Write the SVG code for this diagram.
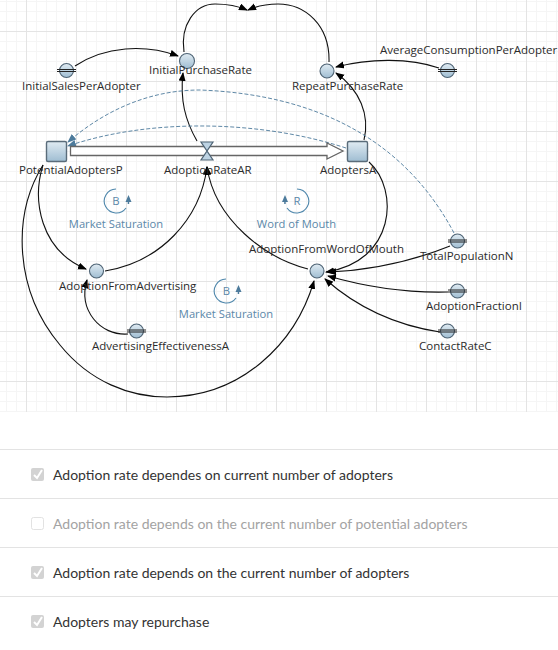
<svg xmlns="http://www.w3.org/2000/svg" width="558" height="650" viewBox="0 0 558 650">
<style>
.lb{font-family:"Open Sans","Noto Sans",sans-serif;font-size:11.5px;fill:#2b2b2b}
.lp{font-family:"Open Sans","Noto Sans",sans-serif;font-size:11.300px;fill:#5b87a8;text-anchor:middle}
.ll{font-family:"Open Sans","Noto Sans",sans-serif;font-size:11.200px;fill:#5b87a8;text-anchor:middle}
.c{fill:none;stroke:#111;stroke-width:1.1;marker-end:url(#a)}
.d{fill:none;stroke:#4d7b9c;stroke-width:.9;stroke-dasharray:4 2;marker-end:url(#b)}
.n{fill:url(#g);stroke:#4f6475;stroke-width:1.1}
.s{fill:url(#g);stroke:#5a6c7a;stroke-width:1.4}
.bar{stroke:#222;stroke-width:1;fill:none}
.opt{font-family:Lato,sans-serif;font-size:14px;fill:#333}
.sep{stroke:#e3e3e3;stroke-width:1.2}
.box{fill:#d3d3d3}
.chk{fill:none;stroke:#fff;stroke-width:2}
.lp2{fill:none;stroke:#4d86ab;stroke-width:1.1}
.lt{fill:#4d7b9c}
</style>
<defs>
<linearGradient id="g" x1="0" y1="0" x2="0" y2="1"><stop offset="0" stop-color="#e0ebf2"/><stop offset="1" stop-color="#9fbdd2"/></linearGradient>
<marker id="a" markerWidth="9" markerHeight="8" refX="8" refY="3.500" orient="auto" markerUnits="userSpaceOnUse"><path d="M0 0L9 3.500L0 7Z" fill="#000"/></marker>
<marker id="b" markerWidth="9" markerHeight="8" refX="8" refY="3.500" orient="auto" markerUnits="userSpaceOnUse"><path d="M0 0L9 3.500L0 7Z" fill="#4d7b9c"/></marker>
<pattern id="grid" width="50" height="50" patternUnits="userSpaceOnUse" patternTransform="translate(26 31)">
<path d="M10.5 0V50M20.5 0V50M30.5 0V50M40.5 0V50M0 10.5H50M0 20.5H50M0 30.5H50M0 40.5H50" stroke="#f5f5f5" fill="none"/>
<path d="M.5 0V50M0 .5H50" stroke="#e4e4e4" fill="none"/>
</pattern>
</defs>
<rect width="558" height="650" fill="#fff"/>
<rect x="0" y="0" width="558" height="412" fill="url(#grid)"/>
<g id="connectors">
<path class="c" d="M184 52C180 25 195 4 215 4C228 4 238 6 247 10"/>
<path class="c" d="M329 62C330 25 305 4 278 4C265 4 257 6 248 10"/>
<path class="c" d="M75 66C105 46 145 44 178 56"/>
<path class="c" d="M197 141C185 120 180 100 183 73"/>
<path class="c" d="M364 140C370 115 360 90 336 73"/>
<path class="c" d="M439 68C410 58 370 58 336 67"/>
<path class="d" d="M454 233C410 150 330 95 200 90C150 90 105 110 68 142"/>
<path class="d" d="M346 148C260 120 150 118 68 146"/>
<path class="c" d="M43 165C32 200 40 250 86 269"/>
<path class="c" d="M43 165C12 215 14 290 60 345C90 382 130 397 167 397C240 397 295 345 314 281"/>
<path class="c" d="M105 271C160 262 200 220 207 167"/>
<path class="c" d="M308 269C265 258 215 220 207 167"/>
<path class="c" d="M369 162C400 190 395 262 326 272"/>
<path class="c" d="M450 246C420 258 380 270 328 272"/>
<path class="c" d="M448 292C410 293 370 288 328 276"/>
<path class="c" d="M440 332C400 326 360 310 325 279"/>
<path class="c" d="M128 334C100 336 78 310 87 280"/>
</g>
<g id="flow-pipe"><path d="M70.500 146.500H327V143L343 151L327 159V155.500H70.500Z" fill="#fff" stroke="#666" stroke-width="1.300"/></g>
<g id="InitialSalesPerAdopter"><circle class="n" cx="66.500" cy="70.500" r="7"/><path class="bar" d="M57 69.500H76M57 71.500H76"/><text class="lb" x="22" y="90">InitialSalesPerAdopter</text></g>
<g id="InitialPurchaseRate"><circle class="n" cx="187" cy="61" r="7.500"/><text class="lb" x="149" y="74">InitialPurchaseRate</text></g>
<g id="RepeatPurchaseRate"><circle class="n" cx="327" cy="71" r="7"/><text class="lb" x="292" y="90">RepeatPurchaseRate</text></g>
<g id="AverageConsumptionPerAdopter"><circle class="n" cx="447.500" cy="70.500" r="7"/><path class="bar" d="M438 69.500H457M438 71.500H457"/><text class="lb" x="380" y="54">AverageConsumptionPerAdopter</text></g>
<g id="PotentialAdoptersP"><rect class="s" x="46.500" y="141.500" width="20" height="20" rx="1.500"/><text class="lb" x="19" y="174">PotentialAdoptersP</text></g>
<g id="AdoptersA"><rect class="s" x="347.500" y="141.500" width="20" height="20" rx="1.500"/><text class="lb" x="320" y="174">AdoptersA</text></g>
<g id="AdoptionRateAR"><path d="M201 142H213L201 160H213Z" fill="#bdd3e3" stroke="#4f6475" stroke-width="1.200"/><text class="lb" x="164" y="174">AdoptionRateAR</text></g>
<g id="AdoptionFromAdvertising"><circle class="n" cx="96.500" cy="271" r="7"/><text class="lb" x="59" y="290">AdoptionFromAdvertising</text></g>
<g id="AdoptionFromWordOfMouth"><circle class="n" cx="317" cy="271" r="7"/><text class="lb" x="249" y="253">AdoptionFromWordOfMouth</text></g>
<g id="AdvertisingEffectivenessA"><circle class="n" cx="136.500" cy="331" r="7"/><path class="bar" d="M127 330H146M127 332H146"/><text class="lb" x="92" y="350">AdvertisingEffectivenessA</text></g>
<g id="TotalPopulationN"><circle class="n" cx="457.500" cy="241" r="7"/><path class="bar" d="M448 240H467M448 242H467"/><text class="lb" x="420" y="260">TotalPopulationN</text></g>
<g id="AdoptionFractionI"><circle class="n" cx="457.500" cy="291" r="7"/><path class="bar" d="M448 290H467M448 292H467"/><text class="lb" x="426" y="310">AdoptionFractionI</text></g>
<g id="ContactRateC"><circle class="n" cx="447.500" cy="331" r="7"/><path class="bar" d="M438 330H457M438 332H457"/><text class="lb" x="419" y="350">ContactRateC</text></g>
<g id="loop-b1"><path class="lp2" d="M116 189A12 12 0 1 0 126 208"/><path class="lt" d="M128.500 195L131.500 202H125.500Z"/><path class="lt" d="M127.700 201h1.500v3h-1.500z"/><text class="lp" x="116" y="205">B</text><text class="ll" x="116" y="228">Market Saturation</text></g>
<g id="loop-r"><path class="lp2" d="M297 189A12 12 0 1 1 287 208"/><path class="lt" d="M285 195L288 202H282Z"/><path class="lt" d="M284.200 201h1.500v3h-1.500z"/><text class="lp" x="297" y="205">R</text><text class="ll" x="296.500" y="228">Word of Mouth</text></g>
<g id="loop-b2"><path class="lp2" d="M226 279A12 12 0 1 0 236 298"/><path class="lt" d="M238.500 285L241.500 292H235.500Z"/><path class="lt" d="M237.700 291h1.500v3h-1.500z"/><text class="lp" x="226.500" y="295">B</text><text class="ll" x="226" y="318">Market Saturation</text></g>
<g id="checklist">
<line class="sep" x1="0" y1="449.500" x2="558" y2="449.500"/>
<line class="sep" x1="0" y1="498.500" x2="558" y2="498.500"/>
<line class="sep" x1="0" y1="547.500" x2="558" y2="547.500"/>
<line class="sep" x1="0" y1="596.500" x2="558" y2="596.500"/>
<rect class="box" x="31" y="468" width="13" height="13" rx="2"/><path class="chk" d="M34 475L37 478L42 470"/>
<text class="opt" x="53" y="480">Adoption rate dependes on current number of adopters</text>
<rect x="31.500" y="517.500" width="12" height="12" rx="2" fill="#fff" stroke="#e2e2e2"/>
<text class="opt" x="53" y="529" style="fill:#a3a3a3">Adoption rate depends on the current number of potential adopters</text>
<rect class="box" x="31" y="566" width="13" height="13" rx="2"/><path class="chk" d="M34 573L37 576L42 568"/>
<text class="opt" x="53" y="578">Adoption rate depends on the current number of adopters</text>
<rect class="box" x="31" y="615" width="13" height="13" rx="2"/><path class="chk" d="M34 622L37 625L42 617"/>
<text class="opt" x="53" y="627">Adopters may repurchase</text>
</g>
</svg>
